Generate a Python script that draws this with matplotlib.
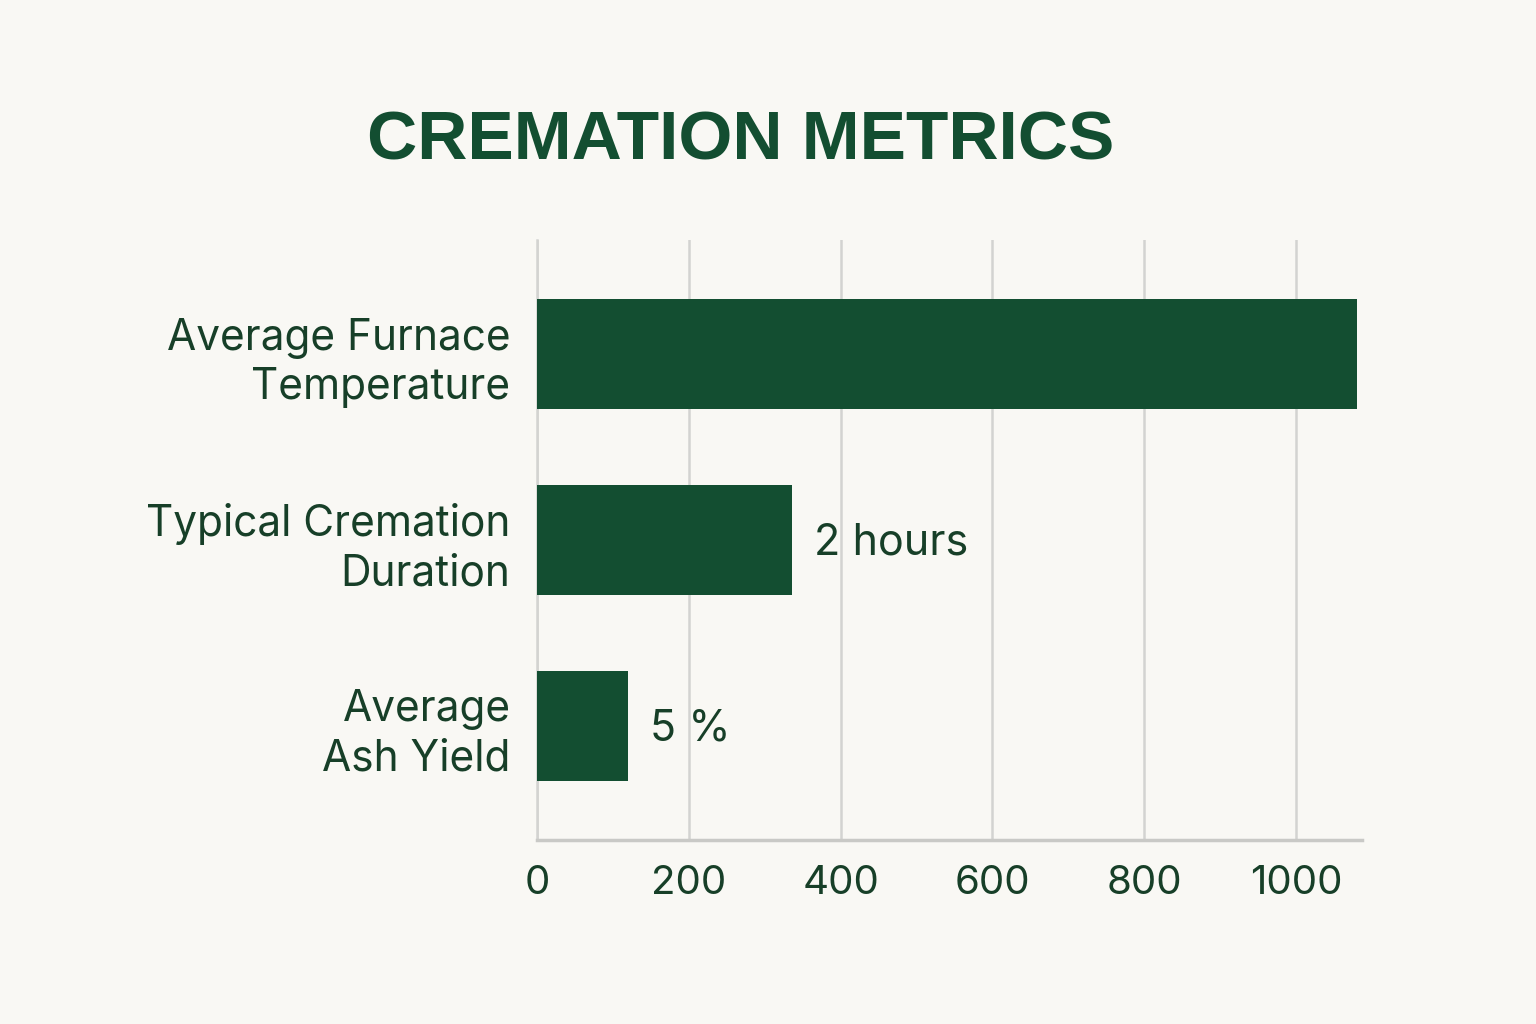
import numpy as np
import matplotlib.pyplot as plt

categories = ["Average Furnace\nTemperature", "Typical Cremation\nDuration", "Average\nAsh Yield"]
values = [1080, 336, 120]
bar_labels = ["", "2 hours", "5 %"]
xticks = [0, 200, 400, 600, 800, 1000]

bg = "#f9f8f4"
green = "#134e31"
text_green = "#173f28"
grid_col = "#d3d3d1"

plt.rcParams["font.family"] = ["Inter", "DejaVu Sans"]

fig = plt.figure(figsize=(15.36, 10.24), dpi=100, facecolor=bg)
ax = fig.add_axes([537 / 1536, 1 - 840 / 1024, (1362 - 537) / 1536, 600 / 1024])
ax.set_facecolor(bg)

y = np.arange(len(categories))
bars = ax.barh(y, values, height=0.59, color=green, zorder=3)

for b, lab in zip(bars, bar_labels):
    if lab:
        ax.annotate(lab, (b.get_width(), b.get_y() + b.get_height() / 2),
                    xytext=(16, -2), textcoords="offset points",
                    va="center", ha="left", fontsize=31, color=text_green)

ax.set_xlim(0, 1087)
ax.set_ylim(len(categories) - 1 + 0.613, -0.613)
ax.set_xticks(xticks)
ax.set_xticklabels([str(t) for t in xticks], fontsize=29, color=text_green)
ax.set_yticks(y)
ax.set_yticklabels(categories, fontsize=30.5, color=text_green, linespacing=1.25)
ax.tick_params(axis="x", length=0, pad=18)
ax.tick_params(axis="y", length=0, pad=19)

ax.grid(axis="x", color=grid_col, linewidth=1.8, zorder=0)
for s in ["top", "right"]:
    ax.spines[s].set_visible(False)
ax.spines["left"].set_color(grid_col)
ax.spines["left"].set_linewidth(1.8)
ax.spines["bottom"].set_color("#c9c9c6")
ax.spines["bottom"].set_linewidth(2.5)

fig.text(741 / 1536, 1 - 141 / 1024, "CREMATION METRICS", ha="center", va="center",
         fontsize=50, fontweight="bold", color=green,
         family=["Liberation Sans", "DejaVu Sans"])

fig.savefig("out.png", dpi=100, facecolor=bg)
